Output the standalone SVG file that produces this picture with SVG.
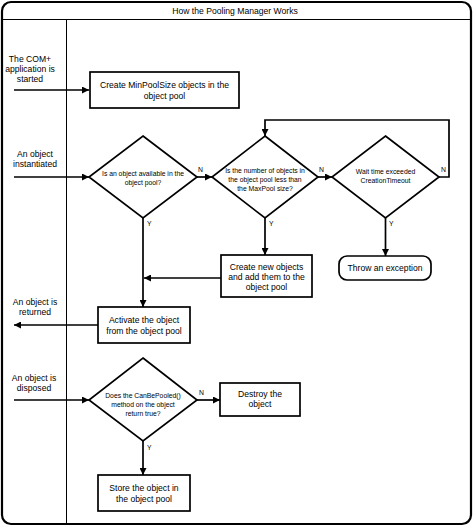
<svg xmlns="http://www.w3.org/2000/svg" width="474" height="526" viewBox="0 0 474 526">
<defs>
<marker id="ah" viewBox="0 0 10 10" refX="10" refY="5" markerWidth="7" markerHeight="7" markerUnits="userSpaceOnUse" orient="auto">
<path d="M0,0 L10,5 L0,10 z" fill="#000"/>
</marker>
<style>
text{font-family:"Liberation Sans",Arial,sans-serif;fill:#000;text-anchor:middle}
.t{font-size:8.6px}
.s{font-size:6.8px}
.l{font-size:6.8px;text-anchor:start}
.box{fill:#fff;stroke:#000;stroke-width:1.7}
.c{fill:none;stroke:#000;stroke-width:1.7;marker-end:url(#ah)}
</style>
</defs>
<rect x="0" y="0" width="474" height="526" fill="#fff"/>
<g id="frame">
<rect x="2" y="2" width="469" height="522" rx="9" fill="#fff" stroke="#000" stroke-width="2.2"/>
<line x1="2" y1="19.5" x2="471" y2="19.5" stroke="#000" stroke-width="1"/>
<line x1="66.5" y1="19.5" x2="66.5" y2="524" stroke="#000" stroke-width="1"/>
<text x="235" y="14" class="t">How the Pooling Manager Works</text>
</g>
<g id="connectors">
<line class="c" x1="14" y1="90" x2="89" y2="90"/>
<line class="c" x1="14" y1="177" x2="89" y2="177"/>
<line class="c" x1="14" y1="400" x2="89" y2="400"/>
<line class="c" x1="197" y1="177" x2="212" y2="177"/>
<line class="c" x1="318" y1="177" x2="332" y2="177"/>
<polyline class="c" points="439,177 449,177 449,120 265,120 265,136"/>
<line class="c" x1="385.5" y1="218" x2="385.5" y2="256"/>
<line class="c" x1="265" y1="218" x2="265" y2="255"/>
<line class="c" x1="221" y1="278" x2="144" y2="278"/>
<line class="c" x1="143" y1="218" x2="143" y2="307"/>
<line class="c" x1="98" y1="325" x2="14" y2="325"/>
<line class="c" x1="197" y1="400" x2="220" y2="400"/>
<line class="c" x1="143" y1="441" x2="143" y2="475"/>
<text x="198" y="172" class="l">N</text>
<text x="319" y="172" class="l">N</text>
<text x="441" y="172" class="l">N</text>
<text x="147" y="226" class="l">Y</text>
<text x="269" y="226" class="l">Y</text>
<text x="389" y="226" class="l">Y</text>
<text x="199" y="395" class="l">N</text>
<text x="147" y="450" class="l">Y</text>
</g>
<g id="label-started">
<text x="30" y="62" class="t">The COM+</text>
<text x="30" y="72" class="t">application is</text>
<text x="30" y="82" class="t">started</text>
</g>
<g id="label-instantiated">
<text x="35" y="157" class="t">An object</text>
<text x="35" y="167" class="t">instantiated</text>
</g>
<g id="label-returned">
<text x="35" y="305" class="t">An object is</text>
<text x="35" y="315" class="t">returned</text>
</g>
<g id="label-disposed">
<text x="34" y="381" class="t">An object is</text>
<text x="34" y="391" class="t">disposed</text>
</g>
<g id="create-min">
<rect class="box" x="90" y="72" width="149" height="36"/>
<text x="164.5" y="88" class="t">Create MinPoolSize objects in the</text>
<text x="164.5" y="99" class="t">object pool</text>
</g>
<g id="dec-available">
<polygon class="box" points="143,136 197,177 143,218 89,177"/>
<text x="143" y="176" class="s">Is an object available in the</text>
<text x="143" y="185" class="s">object pool?</text>
</g>
<g id="dec-maxpool">
<polygon class="box" points="265,136 318,177 265,218 212,177"/>
<text x="265" y="173" class="s">Is the number of objects in</text>
<text x="265" y="182" class="s">the object pool less than</text>
<text x="265" y="191" class="s">the MaxPool size?</text>
</g>
<g id="dec-timeout">
<polygon class="box" points="385.5,136 439,177 385.5,218 332,177"/>
<text x="385.5" y="174" class="s">Wait time exceeded</text>
<text x="385.5" y="183" class="s">CreationTimeout</text>
</g>
<g id="throw">
<rect class="box" x="339" y="256" width="92" height="24" rx="8"/>
<text x="385" y="271" class="t">Throw an exception</text>
</g>
<g id="create-new">
<rect class="box" x="221" y="255" width="91" height="42"/>
<text x="266.5" y="270" class="t">Create new objects</text>
<text x="266.5" y="280" class="t">and add them to the</text>
<text x="266.5" y="290" class="t">object pool</text>
</g>
<g id="activate">
<rect class="box" x="98" y="307" width="92" height="36"/>
<text x="144" y="323" class="t">Activate the object</text>
<text x="144" y="334" class="t">from the object pool</text>
</g>
<g id="dec-canbepooled">
<polygon class="box" points="143,358 197,400 143,441 89,400"/>
<text x="143" y="398" class="s">Does the CanBePooled()</text>
<text x="143" y="407" class="s">method on the object</text>
<text x="143" y="416" class="s">return true?</text>
</g>
<g id="destroy">
<rect class="box" x="220" y="383" width="80" height="33"/>
<text x="260" y="397" class="t">Destroy the</text>
<text x="260" y="407" class="t">object</text>
</g>
<g id="store">
<rect class="box" x="98" y="475" width="92" height="36"/>
<text x="144" y="491" class="t">Store the object in</text>
<text x="144" y="502" class="t">the object pool</text>
</g>
</svg>
